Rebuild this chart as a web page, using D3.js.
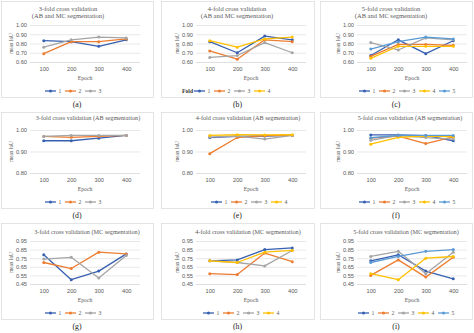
<!DOCTYPE html>
<html lang="en">
<head>
<meta charset="UTF-8" />
<title>Cross validation mean IoU</title>
<style>
  html, body { margin: 0; padding: 0; background: #fff; }
  svg { display: block; font-family: "Liberation Serif", "DejaVu Serif", serif; }
  .grid line { stroke: #d9d9d9; stroke-width: 0.6; }
  .grid text, .xaxis text { fill: #595959; font-size: 5.7px; }
  .xaxis .domain { stroke: #d9d9d9; stroke-width: 0.6; }
</style>
</head>
<body>
<svg width="474" height="333"></svg>
<script src="https://cdnjs.cloudflare.com/ajax/libs/d3/7.8.5/d3.min.js"></script>
<script>
  const epochs = [100, 200, 300, 400];
  const foldColors = ["#3760b0", "#ed7d31", "#a5a5a5", "#ffc000", "#5b9bd5"];

  // tick values for the three rows
  const ticksBoth = [0.60, 0.70, 0.80, 0.90, 1.00];
  const ticksAB = [0.80, 0.90, 1.00];
  const ticksMC = [0.45, 0.55, 0.65, 0.75, 0.85, 0.95];

  // mean IoU per fold (rows) and epoch (columns)
  const abmc3 = [
    [0.83, 0.82, 0.77, 0.84],
    [0.69, 0.82, 0.82, 0.85],
    [0.76, 0.84, 0.87, 0.86]
  ];
  const abmc4 = [
    [0.82, 0.70, 0.88, 0.84],
    [0.72, 0.63, 0.84, 0.82],
    [0.65, 0.67, 0.81, 0.70],
    [0.83, 0.76, 0.85, 0.87]
  ];
  const abmc5 = [
    [0.67, 0.84, 0.69, 0.83],
    [0.66, 0.79, 0.79, 0.78],
    [0.81, 0.73, 0.86, 0.84],
    [0.64, 0.77, 0.77, 0.77],
    [0.74, 0.82, 0.87, 0.85]
  ];
  const ab3 = [
    [0.950, 0.950, 0.962, 0.975],
    [0.970, 0.966, 0.970, 0.975],
    [0.970, 0.975, 0.975, 0.975]
  ];
  const ab4 = [
    [0.965, 0.970, 0.972, 0.975],
    [0.890, 0.965, 0.974, 0.975],
    [0.967, 0.972, 0.958, 0.975],
    [0.975, 0.978, 0.977, 0.978]
  ];
  const ab5 = [
    [0.977, 0.977, 0.974, 0.950],
    [0.962, 0.972, 0.937, 0.968],
    [0.952, 0.975, 0.965, 0.958],
    [0.934, 0.966, 0.972, 0.969],
    [0.964, 0.975, 0.975, 0.975]
  ];
  const mc3 = [
    [0.79, 0.50, 0.60, 0.80],
    [0.70, 0.63, 0.82, 0.80],
    [0.74, 0.76, 0.52, 0.78]
  ];
  const mc4 = [
    [0.72, 0.73, 0.85, 0.87],
    [0.57, 0.56, 0.81, 0.71],
    [0.72, 0.70, 0.66, 0.84],
    [0.72, 0.70, 0.82, 0.84]
  ];
  const mc5 = [
    [0.72, 0.79, 0.60, 0.51],
    [0.55, 0.73, 0.53, 0.76],
    [0.77, 0.83, 0.57, 0.82],
    [0.57, 0.50, 0.75, 0.77],
    [0.70, 0.77, 0.83, 0.85]
  ];

  // grid geometry
  const cols = [
    { box: [1, 153], plot: [30, 140] },
    { box: [161, 314], plot: [196, 306] },
    { box: [320, 472], plot: [357, 467] }
  ];
  const rows = [
    { top: 0, ticks: ticksBoth, domain: [0.60, 1.00], titleY: [11, 18] },
    { top: 111, ticks: ticksAB, domain: [0.80, 1.00], titleY: [9] },
    { top: 222, ticks: ticksMC, domain: [0.45, 0.95], titleY: [12] }
  ];

  const panels = [
    { r: 0, c: 0, data: abmc3, title: ["3-fold cross validation", "(AB and MC segmentation)"], tx: 68, lx: 75, cap: "(a)" },
    { r: 0, c: 1, data: abmc4, title: ["4-fold cross validation", "(AB and MC segmentation)"], tx: 237, lx: 228, cap: "(b)", fold: true },
    { r: 0, c: 2, data: abmc5, title: ["5-fold cross validation", "(AB and MC segmentation)"], tx: 391, lx: 409, cap: "(c)" },
    { r: 1, c: 0, data: ab3, title: ["3-fold cross validation (AB segmentation)"], tx: 88, lx: 75, cap: "(d)" },
    { r: 1, c: 1, data: ab4, title: ["4-fold cross validation (AB segmentation)"], tx: 248, lx: 251, cap: "(e)" },
    { r: 1, c: 2, data: ab5, title: ["5-fold cross validation (AB segmentation)"], tx: 410, lx: 409, cap: "(f)" },
    { r: 2, c: 0, data: mc3, title: ["3-fold cross validation (MC segmentation)"], tx: 87, lx: 75, cap: "(g)" },
    { r: 2, c: 1, data: mc4, title: ["4-fold cross validation (MC segmentation)"], tx: 248, lx: 243, cap: "(h)" },
    { r: 2, c: 2, data: mc5, title: ["5-fold cross validation (MC segmentation)"], tx: 406, lx: 408, cap: "(i)" }
  ];

  const svg = d3.select("svg");

  panels.forEach(p => {
    const col = cols[p.c], row = rows[p.r];
    const g = svg.append("g").attr("transform", `translate(0,${row.top})`);

    // chart frame
    g.append("rect")
      .attr("x", col.box[0] + 0.5).attr("y", 1.5)
      .attr("width", col.box[1] - col.box[0]).attr("height", 96)
      .attr("fill", "none").attr("stroke", "#d9d9d9").attr("stroke-width", 0.7);

    const x = d3.scalePoint(epochs, col.plot).padding(0.5);
    const y = d3.scaleLinear(row.domain, [62, 19 + (p.r === 0 ? 6 : 0)]);

    // title
    g.append("g").selectAll("text").data(p.title).join("text")
      .attr("x", p.tx).attr("y", (d, i) => row.titleY[i])
      .attr("text-anchor", "middle").attr("fill", "#595959")
      .attr("font-size", p.r === 0 ? 6.5 : 6.2)
      .text(d => d);

    // horizontal gridlines + value labels
    g.append("g").attr("class", "grid")
      .attr("transform", `translate(${col.plot[0]},0)`)
      .call(d3.axisLeft(y).tickValues(row.ticks).tickSize(-(col.plot[1] - col.plot[0]))
        .tickPadding(3).tickFormat(d3.format(".2f")))
      .call(a => a.select(".domain").remove());

    // category axis
    g.append("g").attr("class", "xaxis")
      .attr("transform", "translate(0,62)")
      .call(d3.axisBottom(x).tickSize(0).tickPadding(4.5))
      .call(a => a.select(".domain").attr("d", `M${col.plot[0]},0.5H${col.plot[1]}`));

    g.append("text")
      .attr("x", (col.plot[0] + col.plot[1]) / 2).attr("y", 80)
      .attr("text-anchor", "middle").attr("fill", "#595959").attr("font-size", 5.7)
      .text("Epoch");

    g.append("text")
      .attr("transform", `translate(${col.plot[0] - 17},${(62 + y(row.domain[1])) / 2}) rotate(-90)`)
      .attr("text-anchor", "middle").attr("fill", "#595959").attr("font-size", 5.2)
      .text("mean IoU");

    // fold series
    const line = d3.line().x((d, i) => x(epochs[i])).y(d => y(d));
    const series = g.append("g").selectAll("g").data(p.data).join("g");
    series.append("path")
      .attr("d", d => line(d)).attr("fill", "none")
      .attr("stroke", (d, i) => foldColors[i]).attr("stroke-width", 1.3)
      .attr("stroke-linejoin", "round");
    series.each(function (d, i) {
      d3.select(this).selectAll("circle").data(d).join("circle")
        .attr("cx", (v, j) => x(epochs[j])).attr("cy", v => y(v))
        .attr("r", 1.5).attr("fill", foldColors[i]);
    });

    // legend
    const n = p.data.length, item = 20;
    const foldW = p.fold ? 12 : 0;
    const lx0 = p.lx - (n * item + foldW) / 2;
    const lg = g.append("g").attr("transform", `translate(${lx0},91)`);
    if (p.fold) {
      lg.append("text").attr("y", 2).attr("font-size", 5.7).attr("font-weight", "bold")
        .attr("fill", "#333").text("Fold");
    }
    const li = lg.selectAll(".li").data(d3.range(n)).join("g")
      .attr("transform", i => `translate(${foldW + i * item},0)`);
    li.append("line").attr("x1", 0).attr("x2", 11)
      .attr("stroke", i => foldColors[i]).attr("stroke-width", 1.3);
    li.append("circle").attr("cx", 5.5).attr("r", 1.5).attr("fill", i => foldColors[i]);
    li.append("text").attr("x", 13.5).attr("y", 2).attr("font-size", 5.7)
      .attr("fill", "#595959").text(i => i + 1);

    // sub-figure caption
    g.append("text")
      .attr("x", (col.box[0] + col.box[1]) / 2).attr("y", 106.5)
      .attr("text-anchor", "middle").attr("fill", "#222").attr("font-size", 7.8)
      .text(p.cap);
  });
</script>
</body>
</html>
